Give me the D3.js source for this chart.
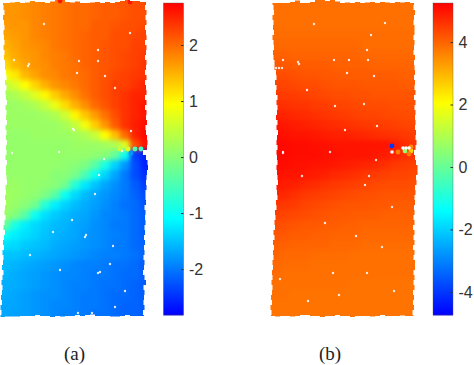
<!DOCTYPE html>
<html>
<head>
<meta charset="utf-8">
<script src="https://cdn.jsdelivr.net/npm/d3@7"></script>
<style>
  html, body { margin: 0; background: #fff; }
  svg { display: block; }
  .tick text { font-family: "Liberation Sans", Arial, sans-serif; font-size: 16px; fill: #333; }
  .tick line { stroke: #333; }
  .caption { font-family: "Liberation Serif", "Times New Roman", serif; font-size: 19px; fill: #222; }
</style>
</head>
<body>
<svg width="474" height="365"></svg>
<script>
// field values, one row per 10 units of height (15 columns)
var gridA = [
  [1.7,1.7,1.75,1.8,1.85,1.9,1.95,2,2,2.05,2.1,2.1,2.15,2.2,2.2],
  [1.7,1.7,1.75,1.8,1.85,1.9,1.95,2,2,2.05,2.1,2.1,2.15,2.2,2.2],
  [1.65,1.7,1.7,1.8,1.85,1.9,1.95,2,2,2.1,2.1,2.15,2.2,2.2,2.25],
  [1.6,1.65,1.7,1.8,1.85,1.9,1.95,2,2.05,2.1,2.1,2.2,2.2,2.25,2.3],
  [1.5,1.6,1.7,1.75,1.8,1.9,1.95,2,2.05,2.1,2.15,2.2,2.2,2.3,2.3],
  [1.4,1.55,1.65,1.7,1.8,1.85,1.9,2,2.05,2.1,2.15,2.2,2.25,2.3,2.35],
  [1.2,1.45,1.6,1.7,1.75,1.85,1.9,1.95,2.05,2.1,2.15,2.2,2.25,2.3,2.4],
  [0.85,1.1,1.45,1.6,1.75,1.8,1.9,1.95,2,2.1,2.15,2.25,2.3,2.35,2.4],
  [0.45,0.65,0.95,1.25,1.5,1.7,1.8,1.9,2,2.1,2.2,2.3,2.3,2.4,2.5],
  [0.2,0.3,0.45,0.7,1,1.3,1.55,1.75,1.95,2.1,2.2,2.3,2.4,2.5,2.5],
  [0.15,0.15,0.2,0.3,0.5,0.8,1.2,1.5,1.75,2,2.15,2.3,2.4,2.5,2.6],
  [0.15,0.15,0.15,0.15,0.2,0.3,0.55,1,1.35,1.65,1.95,2.2,2.4,2.5,2.6],
  [0.15,0.15,0.15,0.15,0.15,0.15,0.25,0.45,0.85,1.3,1.7,2.1,2.4,2.55,2.65],
  [0.1,0.1,0.1,0.15,0.15,0.15,0.15,0.2,0.3,0.5,0.95,1.4,2,2.5,2.7],
  [0.1,0.1,0.1,0.1,0.1,0.1,0.1,0.15,0.15,0.15,0.2,0.3,0.7,2.2,2.6],
  [0.1,0.1,0.1,0.1,0.1,0.1,0.1,0.1,0.1,0.05,0,-0.3,-1,-2.4,-2.6],
  [0.1,0.1,0.1,0.1,0.1,0.1,0.05,0,-0.1,-0.4,-0.9,-1.4,-1.8,-2.3,-2.6],
  [0.1,0.1,0.1,0.1,0.1,0,0,-0.15,-0.5,-1,-1.4,-1.7,-2,-2.3,-2.5],
  [0.15,0.15,0.1,0.1,0.05,0,-0.2,-0.8,-1.25,-1.5,-1.7,-1.85,-2,-2.2,-2.4],
  [0.2,0.15,0.1,0.05,-0.1,-0.4,-1,-1.35,-1.55,-1.7,-1.8,-1.9,-2,-2.15,-2.3],
  [0.2,0.1,0,-0.2,-0.8,-1.2,-1.4,-1.55,-1.65,-1.75,-1.85,-1.95,-2.05,-2.1,-2.25],
  [0.1,-0.05,-0.4,-1,-1.3,-1.45,-1.55,-1.65,-1.7,-1.8,-1.9,-1.95,-2,-2.1,-2.2],
  [-0.3,-0.9,-1.2,-1.35,-1.45,-1.55,-1.6,-1.7,-1.75,-1.85,-1.9,-2,-2,-2.1,-2.2],
  [-1,-1.2,-1.3,-1.4,-1.5,-1.6,-1.65,-1.7,-1.8,-1.85,-1.9,-1.95,-2,-2.1,-2.2],
  [-1.3,-1.35,-1.45,-1.5,-1.55,-1.65,-1.7,-1.75,-1.8,-1.85,-1.9,-2,-2,-2.1,-2.15],
  [-1.5,-1.5,-1.55,-1.6,-1.65,-1.7,-1.75,-1.8,-1.85,-1.9,-1.95,-1.95,-2,-2.05,-2.15],
  [-1.55,-1.6,-1.65,-1.7,-1.75,-1.8,-1.85,-1.9,-1.95,-1.95,-2,-2.05,-2.05,-2.1,-2.2],
  [-1.6,-1.65,-1.7,-1.75,-1.8,-1.85,-1.9,-1.9,-1.95,-2,-2,-2.05,-2.1,-2.1,-2.2],
  [-1.65,-1.65,-1.7,-1.75,-1.8,-1.85,-1.9,-1.95,-1.95,-2,-2.05,-2.05,-2.1,-2.15,-2.2],
  [-1.65,-1.7,-1.75,-1.8,-1.85,-1.85,-1.9,-1.95,-2,-2,-2.05,-2.1,-2.1,-2.15,-2.2],
  [-1.7,-1.7,-1.75,-1.8,-1.85,-1.9,-1.9,-1.95,-2,-2,-2.05,-2.1,-2.15,-2.15,-2.2],
  [-1.7,-1.75,-1.75,-1.8,-1.85,-1.9,-1.95,-1.95,-2,-2.05,-2.05,-2.1,-2.15,-2.15,-2.2]
];
var gridB = [
  [3.85,3.85,3.85,3.85,3.85,3.85,3.85,3.85,3.85,3.85,3.85,3.85,3.85,3.85,3.85],
  [3.85,3.85,3.85,3.85,3.85,3.85,3.85,3.85,3.85,3.85,3.85,3.85,3.85,3.85,3.85],
  [3.85,3.85,3.85,3.85,3.85,3.85,3.85,3.85,3.85,3.85,3.85,3.85,3.85,3.85,3.85],
  [3.9,3.9,3.9,3.9,3.9,3.9,3.9,3.9,3.9,3.9,3.9,3.9,3.9,3.9,3.9],
  [3.95,3.95,3.95,3.95,3.95,3.95,3.95,3.95,3.95,3.9,3.9,3.9,3.9,3.9,3.9],
  [4.05,4.05,4,4,4,4,4,4,4,3.95,3.95,3.95,3.95,3.95,3.95],
  [4.15,4.15,4.1,4.1,4.1,4.1,4.05,4.05,4.05,4.05,4,4,4,4,4],
  [4.3,4.3,4.25,4.2,4.2,4.15,4.15,4.1,4.1,4.1,4.1,4.1,4.1,4.05,4.05],
  [4.4,4.4,4.35,4.3,4.3,4.25,4.2,4.2,4.2,4.15,4.15,4.15,4.15,4.1,4.1],
  [4.55,4.5,4.5,4.45,4.4,4.35,4.3,4.3,4.25,4.25,4.2,4.2,4.2,4.2,4.2],
  [4.7,4.65,4.6,4.6,4.5,4.5,4.4,4.4,4.35,4.3,4.3,4.3,4.25,4.25,4.25],
  [4.85,4.8,4.75,4.7,4.65,4.6,4.55,4.5,4.45,4.4,4.4,4.35,4.35,4.3,4.3],
  [5,4.95,4.9,4.85,4.8,4.75,4.7,4.65,4.6,4.55,4.5,4.5,4.45,4.4,4.4],
  [5.1,5.05,5,5,4.95,4.9,4.85,4.85,4.8,4.75,4.7,4.65,4.6,4.55,4.5],
  [5.15,5.15,5.1,5.1,5.05,5.05,5,5,5,5,5,5,4.9,4.7,4.6],
  [5.15,5.15,5.1,5.1,5.1,5.05,5.05,5,5,5,4.95,4.9,4.8,4.7,4.6],
  [5.1,5.1,5.05,5.05,5,5,4.95,4.9,4.85,4.8,4.75,4.65,4.55,4.5,4.45],
  [5.05,5,5,4.95,4.9,4.85,4.75,4.7,4.65,4.55,4.5,4.45,4.4,4.4,4.35],
  [4.95,4.9,4.85,4.75,4.7,4.6,4.55,4.5,4.45,4.4,4.35,4.3,4.3,4.3,4.25],
  [4.8,4.75,4.65,4.55,4.5,4.45,4.4,4.35,4.3,4.25,4.25,4.2,4.2,4.2,4.2],
  [4.6,4.55,4.5,4.4,4.35,4.3,4.25,4.2,4.2,4.2,4.15,4.15,4.1,4.1,4.1],
  [4.45,4.4,4.35,4.3,4.25,4.2,4.15,4.15,4.1,4.1,4.1,4.05,4.05,4.05,4.05],
  [4.3,4.25,4.2,4.15,4.15,4.1,4.1,4.05,4.05,4,4,4,4,4,4],
  [4.2,4.15,4.1,4.1,4.05,4.05,4,4,4,3.95,3.95,3.95,3.95,3.95,3.95],
  [4.05,4.05,4,4,4,4,3.95,3.95,3.95,3.9,3.9,3.9,3.9,3.9,3.9],
  [4,3.95,3.95,3.95,3.9,3.9,3.9,3.9,3.85,3.85,3.85,3.85,3.85,3.85,3.85],
  [3.95,3.9,3.9,3.9,3.85,3.85,3.85,3.85,3.85,3.85,3.85,3.85,3.85,3.85,3.85],
  [3.9,3.85,3.85,3.85,3.85,3.85,3.85,3.85,3.85,3.85,3.85,3.85,3.85,3.85,3.85],
  [3.85,3.85,3.85,3.85,3.85,3.85,3.85,3.85,3.8,3.8,3.8,3.8,3.8,3.8,3.8],
  [3.85,3.85,3.8,3.8,3.8,3.8,3.8,3.8,3.8,3.8,3.8,3.8,3.8,3.8,3.8],
  [3.8,3.8,3.8,3.8,3.8,3.8,3.8,3.8,3.8,3.8,3.8,3.8,3.8,3.8,3.8],
  [3.8,3.8,3.8,3.8,3.8,3.8,3.8,3.8,3.8,3.8,3.8,3.8,3.8,3.8,3.8]
];

// specimen outline, in specimen units. left/right every 5 units of height, top/bottom every 5 of width
var leftA = [4,3,3.5,4.5,3,4,4.5,3.5,4,4.5, 3.5,4.5,4,5,5,6,6.5,5,6.5,5.5, 6,7,5.5,6.5,6,7,5.5,6.5,6,7,
  6,6.5,5.5,7,6,6,6.5,7,5.5,6, 5,6,5,4.5,5.5,4.5,3.5,5,4,3, 4,2.5,3.5,3,2,3.5,2.5,1.5,2.5,2, 1,2,0.5,1.5,0.5];
var rightA = [146,145,146.5,145.5,146.5,145,146,146.5,145,146.5, 146,145,146.5,146,145,146.5,145,146,146.5,145,
  146.5,145,146.5,146,147,145.5,146,147,147.5,147, 143,146,147.5,148,147,146.5,146,146.5,145.5,145.5,
  146,144.5,145.5,145,145.5,144.5,145,144,145,144, 144.5,143.5,144.5,144,143,144.5,146,143.5,144.5,144, 143.5,144.5,143,144,143.5];
var topA = [3,3,2.5,2,3,2.5,1,2,2,3,1.5,0,0,2,2.5,1.5,3,3,2.5,2,3,2,3,2,1,0,1,1,2,2,3];
var bottomA = [317,317,316.5,316.5,316.5,316,316,316,315,316,316,317,316,316.5,316,316,315,316,315,314.5,316,316,316,316.5,316.5,316,315,316,316,316,316];

var leftB = [3,2.5,3.5,4,2.5,3.5,3,4,2.5,3.5, 4,3,3.5,4.5,4.5,6,6.5,5,6.5,6, 7.5,6.5,7.5,7,6,7.5,6.5,8,7,6.5,
  7.5,6.5,7,7.5,6.5,7,7.5,8,6.5,7, 7.5,6,6.5,5,5.5,4.5,5,3.5,4.5,3, 4,3,3.5,2.5,3,2,2.5,1.5,2.5,2, 1,2,0.5,1.5,1];
var rightB = [144,143.5,145,144,143.5,144.5,144.5,143.5,144.5,144, 143.5,145,144,144.5,145,144,145,144.5,145.5,144,
  145.5,144.5,145.5,145,145.5,145,146,145.5,146.5,145.5, 144,145,146,147.5,147.5,146,146.5,145,145.5,144.5,
  145,144,144.5,143.5,144.5,143,144.5,143.5,144.5,143, 144.5,143.5,145,145,143.5,144.5,143.5,144.5,143,144, 143,144,142.5,143.5,143];
var topB = [3,3,3,3,2,0.5,3,3,2,0,0,1,0,1.5,3,2.5,3,2,3,2.5,2,3,2,2.5,3,2,2.5,2,3,3,3];
var bottomB = [316,316,316.5,316,316,316.5,316,315,315,316,316,317,316,316,315,316,316,317,316,316,316,316.5,316,315,316,316,316,315.5,316,316,316];

// white pinholes in the speckle data, specimen units [x, y]
var holesA = [[44,24],[130,33],[98,50],[79,61],[98,61],[29,64],[14,60],[28,66],[77,73],[105,76],[115,88],[74,130],[73,129],[131,131],
  [12,153],[59,152],[104,159],[122,151],[99,175],[95,194],[72,220],[53,232],[86,235],[85,237],[113,246],[30,255],[110,264],[98,273],[60,270],
  [125,291],[115,307],[78,313],[92,313],[100,272]];
var holesB = [[44,24],[115,23],[101,35],[97,50],[13,60],[64,60],[79,60],[98,60],[29,64],[28,62],[77,73],[104,76],[37,90],[65,106],[94,104],
  [75,130],[107,126],[13,153],[60,152],[106,160],[32,176],[99,176],[95,185],[55,223],[86,236],[112,247],[63,273],[97,273],[10,279],[1,293],
  [124,291],[69,295],[38,301],[13,152],[122,207],[6,68],[9,68],[12,68]];

// odd patches around the crack tip, specimen units [x, y, value]
var tipA = [[120,149,0.5],[128,149,0.7],[135,149,-0.5],[141,149,-0.6],[131,153,-1.8],[60,1,2.6],[130,2,2.6]];
var tipB = [[122,146,-4],[128,152,3.7],[135,151,0.6],[141,151,2.6],[141,147,3.5],[139,154,3.7]];

// white gaps at the crack, specimen units [x, y]
var gapB = [[122,152],[133,148],[136,148],[139,148]];

var ticksA = [-2, -1, 0, 1, 2];
var ticksB = [-4, -2, 0, 2, 4];
var captions = ["(a)", "(b)"];

// colour stops of the bar: blue, cyan, yellow, red
var stopsA = [-2.82, -1.1, 0.95, 2.75];
var stopsB = [-4.74, -1.4, 2.05, 5.25];
var stopColors = ["#0000ff", "#00ffff", "#ffff00", "#ff0000"];

var svg = d3.select("svg");

function drawPanel(id, grid, left, right, top, bottom, holes, tip, gaps, stops, ticks, caption, panelX, barX, capX) {
  var color = d3.scaleLinear().domain(stops).range(stopColors).clamp(true);

  var x = d3.scaleLinear().domain([0, 150]).range([panelX, panelX + 150]),
      y = d3.scaleLinear().domain([0, 320]).range([0, 320]);
  var col = d3.scaleBand().domain(d3.range(grid[0].length)).range([panelX, panelX + 150]),
      row = d3.scaleBand().domain(d3.range(grid.length)).range([0, 320]);

  var defs = svg.append("defs");

  // field is soft in the picture, a small blur hides the cell steps
  defs.append("filter")
      .attr("id", "soft" + id)
      .attr("filterUnits", "userSpaceOnUse")
      .attr("x", panelX - 40).attr("y", -40).attr("width", 230).attr("height", 400)
    .append("feGaussianBlur")
      .attr("stdDeviation", 2.8)
      .attr("color-interpolation-filters", "sRGB");

  // same idea for the tiny marks, just much less
  defs.append("filter")
      .attr("id", "fine" + id)
      .attr("filterUnits", "userSpaceOnUse")
      .attr("x", panelX - 40).attr("y", -40).attr("width", 230).attr("height", 400)
    .append("feGaussianBlur")
      .attr("stdDeviation", 0.5)
      .attr("color-interpolation-filters", "sRGB");

  var sides = left.map(function(d, i) { return [x(d), y(i * 5)]; })
    .concat(right.map(function(d, i) { return [x(d), y(i * 5)]; }).reverse());
  var caps = top.map(function(d, i) { return [x(i * 5), y(d)]; })
    .concat(bottom.map(function(d, i) { return [x(i * 5), y(d)]; }).reverse());

  defs.append("clipPath").attr("id", "sides" + id)
    .append("path").attr("d", d3.line().curve(d3.curveStepAfter)(sides) + "Z");
  defs.append("clipPath").attr("id", "caps" + id)
    .append("path").attr("d", d3.line().curve(d3.curveStepAfter)(caps) + "Z");

  var clipped = svg.append("g").attr("clip-path", "url(#sides" + id + ")")
    .append("g").attr("clip-path", "url(#caps" + id + ")");

  var cells = [];
  grid.forEach(function(r, i) { r.forEach(function(v, j) { cells.push({r: i, c: j, v: v}); }); });

  // border cells run on past the outline so the blur does not fade at the clip
  var last = grid[0].length - 1, lastRow = grid.length - 1;
  clipped.append("g").attr("filter", "url(#soft" + id + ")")
    .selectAll("rect").data(cells).enter().append("rect")
      .attr("x", function(d) { return col(d.c) - (d.c == 0 ? 20 : 0); })
      .attr("y", function(d) { return row(d.r) - (d.r == 0 ? 20 : 0); })
      .attr("width", function(d) { return col.bandwidth() + (d.c == 0 || d.c == last ? 20 : 0); })
      .attr("height", function(d) { return row.bandwidth() + (d.r == 0 || d.r == lastRow ? 20 : 0); })
      .attr("fill", function(d) { return color(d.v); });

  var marks = clipped.append("g").attr("filter", "url(#fine" + id + ")");

  marks.append("g").selectAll("circle").data(tip).enter().append("circle")
      .attr("cx", function(d) { return x(d[0]); })
      .attr("cy", function(d) { return y(d[1]); })
      .attr("r", 2.4)
      .attr("fill", function(d) { return color(d[2]); });

  marks.append("g").selectAll("circle").data(gaps).enter().append("circle")
      .attr("cx", function(d) { return x(d[0]); })
      .attr("cy", function(d) { return y(d[1]); })
      .attr("r", 1.8)
      .attr("fill", "#fff");

  marks.append("g").selectAll("circle").data(holes).enter().append("circle")
      .attr("cx", function(d) { return x(d[0]); })
      .attr("cy", function(d) { return y(d[1]); })
      .attr("r", 1.2)
      .attr("fill", "#fff")
      .attr("fill-opacity", 0.85);

  // colour bar, one thin rect per pixel step
  var barY = d3.scaleLinear().domain([stops[0], stops[3]]).range([315, 3]);
  var levels = d3.range(stops[0], stops[3], (stops[3] - stops[0]) / 312);
  svg.append("g").selectAll("rect").data(levels).enter().append("rect")
      .attr("x", barX)
      .attr("y", function(d) { return barY(d) - 1; })
      .attr("width", 20)
      .attr("height", 1.4)
      .attr("fill", function(d) { return color(d); });

  svg.append("rect")
      .attr("x", barX).attr("y", 3).attr("width", 20).attr("height", 312)
      .attr("fill", "none").attr("stroke", "#555").attr("stroke-opacity", 0.6).attr("stroke-width", 0.6);

  var axis = svg.append("g")
      .attr("transform", "translate(" + (barX + 20) + ",0)")
      .call(d3.axisRight(barY).tickValues(ticks).tickSize(-2.5).tickPadding(5.5).tickFormat(d3.format("d")));
  axis.select(".domain").remove();
  axis.selectAll(".tick text").text(function(d) { return d; });

  svg.append("text").attr("class", "caption")
      .attr("x", capX).attr("y", 360)
      .attr("text-anchor", "middle")
      .text(caption);
}

drawPanel("A", gridA, leftA, rightA, topA, bottomA, holesA, tipA, [], stopsA, ticksA, captions[0], 0, 163.5, 74.5);
drawPanel("B", gridB, leftB, rightB, topB, bottomB, holesB, tipB, gapB, stopsB, ticksB, captions[1], 270, 433, 330);
</script>
</body>
</html>
